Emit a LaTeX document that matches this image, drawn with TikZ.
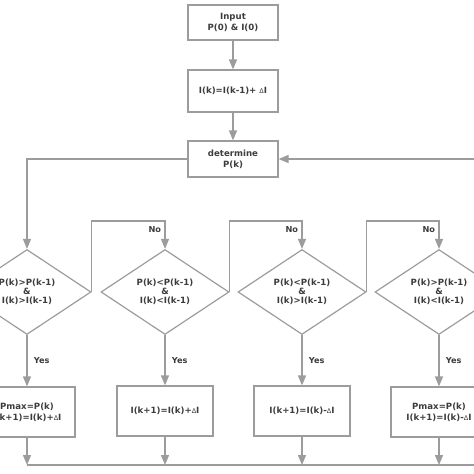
\documentclass[tikz,border=0pt]{standalone}
\usepackage{fontspec}
\setmainfont{DejaVu Sans}
\usetikzlibrary{arrows.meta,shapes.geometric}
\definecolor{ink}{HTML}{3C3C3C}
\definecolor{wire}{HTML}{9C9C9C}
\newcommand{\dI}{{\fontsize{6.5}{7}\selectfont\mdseries Δ}I}

\begin{document}
\begin{tikzpicture}[x=1pt, y=-1pt,
  every node/.style={font=\fontsize{8.6}{11}\selectfont\bfseries, text=ink},
  blk/.style={rectangle, draw=wire, line width=1.2pt, minimum width=90pt, align=center, inner sep=2pt},
  dec/.style={diamond, draw=wire, line width=1.2pt, minimum width=128pt, minimum height=85pt,
    inner sep=0pt, align=center, font=\fontsize{8.6}{9}\selectfont\bfseries},
  act/.style={blk, minimum width=96pt, minimum height=50pt},
  arrow/.style={-{Triangle[width=8pt,length=10pt]}, line width=1.3pt, color=wire},
  lbl/.style={font=\fontsize{8.2}{9}\selectfont\bfseries}
]
\useasboundingbox (0,0) rectangle (474,474);
\clip (0,0) rectangle (474,474);

% --- top column
\node[blk, minimum height=35pt] (in)  at (233,22.5) {Input\\P(0) \& I(0)};
\node[blk, minimum height=42pt] (upd) at (233,91)   {I(k)=I(k-1)+ \dI};
\node[blk, minimum height=36pt] (det) at (233,159)  {determine\\P(k)};
\draw[arrow] (in) -- (upd);
\draw[arrow] (upd) -- (det);

% --- decisions
\node[dec] (d1) at (27,292)  {P(k)>P(k-1)\\\&\\I(k)>I(k-1)};
\node[dec] (d2) at (165,292) {P(k)<P(k-1)\\\&\\I(k)<I(k-1)};
\node[dec] (d3) at (302,292) {P(k)<P(k-1)\\\&\\I(k)>I(k-1)};
\node[dec] (d4) at (439,292) {P(k)>P(k-1)\\\&\\I(k)<I(k-1)};

% --- actions
\node[act] (b1) at (27,412)  {Pmax=P(k)\\I(k+1)=I(k)+\dI};
\node[act] (b2) at (165,411) {I(k+1)=I(k)+\dI};
\node[act] (b3) at (302,411) {I(k+1)=I(k)-\dI};
\node[act] (b4) at (439,412) {Pmax=P(k)\\I(k+1)=I(k)-\dI};

\coordinate (top) at (0,221);
\coordinate (bot) at (0,465);
\coordinate (ret) at (495,159);

\draw[arrow] (det.west) -| (d1.north);
\draw[arrow] (d1.east) |- (d2.north |- top) -- node[lbl, pos=0.3, left] {No} (d2.north);
\draw[arrow] (d2.east) |- (d3.north |- top) -- node[lbl, pos=0.3, left] {No} (d3.north);
\draw[arrow] (d3.east) |- (d4.north |- top) -- node[lbl, pos=0.3, left] {No} (d4.north);

\draw[arrow] (d1.south) -- node[lbl, right, xshift=3pt] {Yes} (b1.north);
\draw[arrow] (d2.south) -- node[lbl, right, xshift=3pt] {Yes} (b2.north);
\draw[arrow] (d3.south) -- node[lbl, right, xshift=3pt] {Yes} (b3.north);
\draw[arrow] (d4.south) -- node[lbl, right, xshift=3pt] {Yes} (b4.north);

% --- back to determine
\draw[arrow] (b1.south) -- (b1.south |- bot);
\draw[arrow] (b2.south) -- (b2.south |- bot);
\draw[arrow] (b3.south) -- (b3.south |- bot);
\draw[arrow] (b4.south) -- (b4.south |- bot);
\draw[arrow] (b1.south |- bot) -- (bot -| ret) -- (ret) -- (det.east);

\end{tikzpicture}
\end{document}
